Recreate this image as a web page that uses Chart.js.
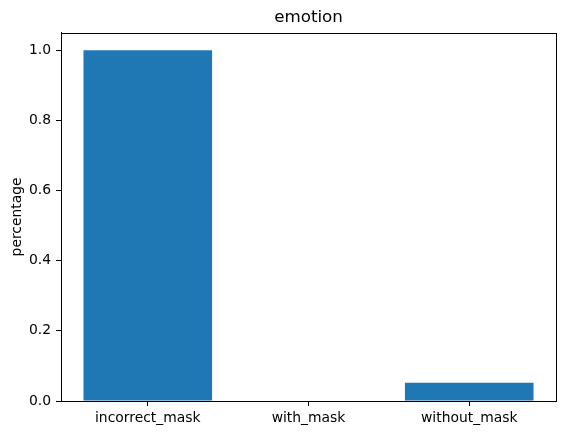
<!DOCTYPE html>
<html>
<head>
<meta charset="utf-8">
<script src="https://cdn.jsdelivr.net/npm/chart.js@4"></script>
<style>
  body { margin: 0; background: #fff; }
  #wrap { width: 567px; height: 435px; }
</style>
</head>
<body>
<div id="wrap"><canvas id="myChart" width="567" height="435"></canvas></div>
<script>
// categories and values
var categories = ["incorrect_mask", "with_mask", "without_mask"];
var percentages = [1.0, 0.0, 0.052];
var yTicks = [0.0, 0.2, 0.4, 0.6, 0.8, 1.0];

var FONT = "'DejaVu Sans', sans-serif";
var BLUE = '#1f77b4';

// black frame round the plot area, like matplotlib's spines
var frame = {
  id: 'frame',
  afterDraw: function(chart) {
    var a = chart.chartArea, c = chart.ctx;
    c.save();
    c.strokeStyle = '#000';
    c.lineWidth = 1;
    c.strokeRect(Math.round(a.left) + 0.5, Math.round(a.top) + 0.5,
      Math.round(a.right - a.left), Math.round(a.bottom - a.top));
    c.restore();
  }
};

var points = categories.map(function(name, i) {
  return { x: i, y: percentages[i] };
});

var ctx = document.getElementById("myChart");
var myChart = new Chart(ctx, {
  type: 'bar',
  data: {
    datasets: [{
      label: 'percentage',
      data: points,
      backgroundColor: BLUE,
      borderColor: BLUE,
      hoverBackgroundColor: BLUE,
      hoverBorderColor: BLUE,
      borderWidth: 0,
      inflateAmount: 0,
      barPercentage: 0.8,
      categoryPercentage: 1.0
    }]
  },
  options: {
    responsive: false,
    animation: false,
    events: [],
    layout: { padding: { left: 0, right: 11, top: 0, bottom: 0 } },
    plugins: {
      colors: { enabled: false },
      legend: { display: false },
      tooltip: { enabled: false },
      title: {
        display: true,
        fullSize: false,
        text: 'emotion',
        color: '#000',
        font: { family: FONT, size: 16.7, weight: 'normal' },
        padding: { top: 8, bottom: 4.7 }
      }
    },
    scales: {
      x: {
        type: 'linear',
        offset: false,
        min: -0.54,
        max: 2.54,
        afterBuildTicks: function(scale) {
          scale.ticks = categories.map(function(c, i) { return { value: i }; });
        },
        afterFit: function(scale) { scale.height = 34; },
        ticks: {
          color: '#000',
          font: { family: FONT, size: 13.9 },
          padding: 4,
          maxRotation: 0,
          autoSkip: false,
          callback: function(v) { return categories[v]; }
        },
        grid: { display: true, offset: false, drawOnChartArea: false, color: '#000', tickLength: 5 },
        border: { display: true, color: '#000' }
      },
      y: {
        min: 0,
        max: 1.05,
        afterBuildTicks: function(scale) {
          scale.ticks = yTicks.map(function(v) { return { value: v }; });
        },
        afterFit: function(scale) { scale.width = 61; },
        ticks: {
          color: '#000',
          font: { family: FONT, size: 13.9 },
          padding: 5,
          callback: function(v) { return v.toFixed(1); }
        },
        title: {
          display: true,
          text: 'percentage',
          color: '#000',
          font: { family: FONT, size: 13.9 },
          padding: { top: 9, bottom: 0 }
        },
        grid: { display: true, drawOnChartArea: false, color: '#000', tickLength: 5 },
        border: { display: true, color: '#000' }
      }
    }
  },
  plugins: [frame]
});
</script>
</body>
</html>
